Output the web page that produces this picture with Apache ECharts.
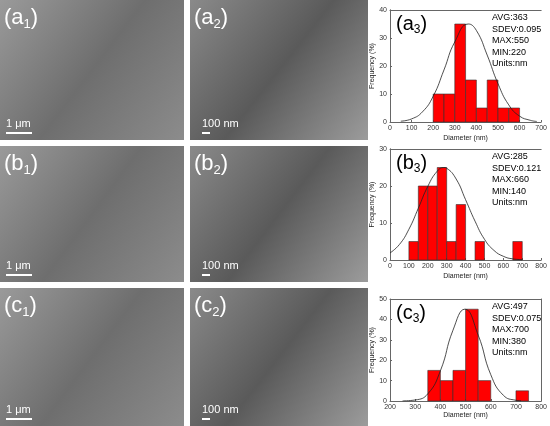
<!DOCTYPE html>
<html><head><meta charset="utf-8">
<script src="https://cdn.jsdelivr.net/npm/echarts@6/dist/echarts.min.js"></script>
<style>html,body{margin:0;padding:0;background:#fff}#c{width:550px;height:426px}</style>
</head><body><div id="c"></div>
<script>
// histogram bins: [start, end, frequency %]
const binsA = [[200,250,10],[250,300,10],[300,350,35],[350,400,15],[400,450,5],[450,500,15],[500,550,5],[550,600,5]];
const binsB = [[100,150,5],[150,200,20],[200,250,20],[250,300,25],[300,350,5],[350,400,15],[450,500,5],[650,700,5]];
const binsC = [[350,400,15],[400,450,10],[450,500,15],[500,550,45],[550,600,10],[700,750,5]];
// fit curves: [diameter, frequency]
const curveA = [[50,0.3],[100,1.1],[150,3.6],[200,9.2],[250,18.6],[300,28.6],[363,35],[400,32.7],[450,23.9],[500,13.7],[550,6.1],[600,2.1],[650,0.6],[680,0.2]];
const curveB = [[0,1.9],[50,4.2],[100,8.3],[150,14],[200,19.9],[250,24],[285,25],[300,24.8],[350,21.9],[400,16.3],[450,10.5],[500,5.6],[550,2.6],[600,1.0],[650,0.3],[700,0.1]];
const curveC = [[250,0.05],[300,0.5],[350,3.5],[400,14.8],[450,34.7],[497,45],[550,32.3],[600,12.9],[650,2.8],[700,0.35],[720,0.1]];
const xAxes = [[0,700,100],[0,800,100],[200,800,100]];
const yAxes = [[0,40,10],[0,30,10],[0,50,10]];
const statsA = ['AVG:363','SDEV:0.095','MAX:550','MIN:220','Units:nm'];
const statsB = ['AVG:285','SDEV:0.121','MAX:660','MIN:140','Units:nm'];
const statsC = ['AVG:497','SDEV:0.075','MAX:700','MIN:380','Units:nm'];

const rows = [
  {top:10,h:112,bins:binsA,curve:curveA,stats:statsA,l:'a'},
  {top:149,h:111,bins:binsB,curve:curveB,stats:statsB,l:'b'},
  {top:299,h:102,bins:binsC,curve:curveC,stats:statsC,l:'c'}
];
const photoRows=[[0,140],[146,136],[288,138]];
const chart = echarts.init(document.getElementById('c'));
const grid=[],xAxis=[],yAxis=[],series=[],graphic=[];
const fnt='Liberation Sans, Arial, sans-serif';
photoRows.forEach((r,i)=>{
  const L='abc'[i];
  [[0,184,'1 μm'],[190,178,'100 nm']].forEach((p,j)=>{
    graphic.push({type:'rect',shape:{x:p[0],y:r[0],width:p[1],height:r[1]},
      style:{fill:new echarts.graphic.LinearGradient(0,0,1,1,[{offset:0,color:j?'#8a8a8a':'#9a9a9a'},{offset:0.5,color:j?'#5a5a5a':'#6e6e6e'},{offset:1,color:j?'#9c9c9c':'#8c8c8c'}])}});
    graphic.push({type:'text',x:p[0]+4,y:r[0]+4,style:{rich:{m:{fontSize:22,fill:'#fff',fontFamily:fnt},s:{fontSize:13,fill:'#fff',fontFamily:fnt,verticalAlign:'bottom',padding:[14,0,0,0]}},text:'{m|('+L+'}{s|'+(j+1)+'}{m|)}'}});
    graphic.push({type:'text',x:p[0]+(j?12:6),y:r[0]+r[1]-22,style:{text:p[2],fontSize:11,fill:'#fff',fontFamily:fnt}});
    graphic.push({type:'rect',shape:{x:p[0]+(j?12:6),y:r[0]+r[1]-8,width:j?8:26,height:2},style:{fill:'#fff'}});
  });
});
rows.forEach((r,i)=>{
  grid.push({left:390,right:5,top:r.top,height:r.h});
  xAxis.push({type:'value',gridIndex:i,min:xAxes[i][0],max:xAxes[i][1],interval:xAxes[i][2],
    name:'Diameter (nm)',nameLocation:'middle',nameGap:i==2?7:13,nameTextStyle:{fontSize:7,fontFamily:fnt,color:'#222'},
    axisLine:{lineStyle:{color:'#666'}},axisTick:{inside:true,length:2},axisLabel:{fontSize:7,margin:3,color:'#333',fontFamily:fnt},splitLine:{show:false}});
  yAxis.push({type:'value',gridIndex:i,min:yAxes[i][0],max:yAxes[i][1],interval:yAxes[i][2],
    name:'Frequency (%)',nameLocation:'middle',nameGap:12,nameTextStyle:{fontSize:7,fontFamily:fnt,color:'#222'},
    axisLine:{show:true,lineStyle:{color:'#666'}},axisTick:{inside:true,length:2},axisLabel:{fontSize:7,margin:3,color:'#333',fontFamily:fnt},splitLine:{show:false}});
  xAxis.push({type:'value',gridIndex:i,position:'top',min:xAxes[i][0],max:xAxes[i][1],axisLine:{show:true,onZero:false,lineStyle:{color:'#666'}},axisTick:{show:false},axisLabel:{show:false},splitLine:{show:false}});
  yAxis.push({type:'value',gridIndex:i,position:'right',min:yAxes[i][0],max:yAxes[i][1],axisLine:{show:true,lineStyle:{color:'#666'}},axisTick:{show:false},axisLabel:{show:false},splitLine:{show:false}});
  series.push({type:'custom',xAxisIndex:2*i,yAxisIndex:2*i,data:r.bins,
    renderItem:(p,api)=>{const a=api.coord([api.value(0),api.value(2)]),b=api.coord([api.value(1),0]);
      return {type:'rect',shape:{x:a[0],y:a[1],width:b[0]-a[0],height:b[1]-a[1]},style:{fill:'#ff0000',stroke:'#333',lineWidth:0.6}};}});
  series.push({type:'line',xAxisIndex:2*i,yAxisIndex:2*i,data:r.curve,smooth:true,showSymbol:false,lineStyle:{color:'#222',width:0.8}});
  graphic.push({type:'text',x:396,y:r.top+2,style:{rich:{m:{fontSize:20,fill:'#000',fontFamily:fnt},s:{fontSize:12,fill:'#000',fontFamily:fnt,padding:[12,0,0,0]}},text:'{m|('+r.l+'}{s|3}{m|)}'}});
  graphic.push({type:'text',x:492,y:r.top+2,style:{text:r.stats.join('\n'),fontSize:9,lineHeight:11.5,fill:'#000',fontFamily:fnt}});
});
chart.setOption({animation:false,grid,xAxis,yAxis,series,graphic});
</script></body></html>
